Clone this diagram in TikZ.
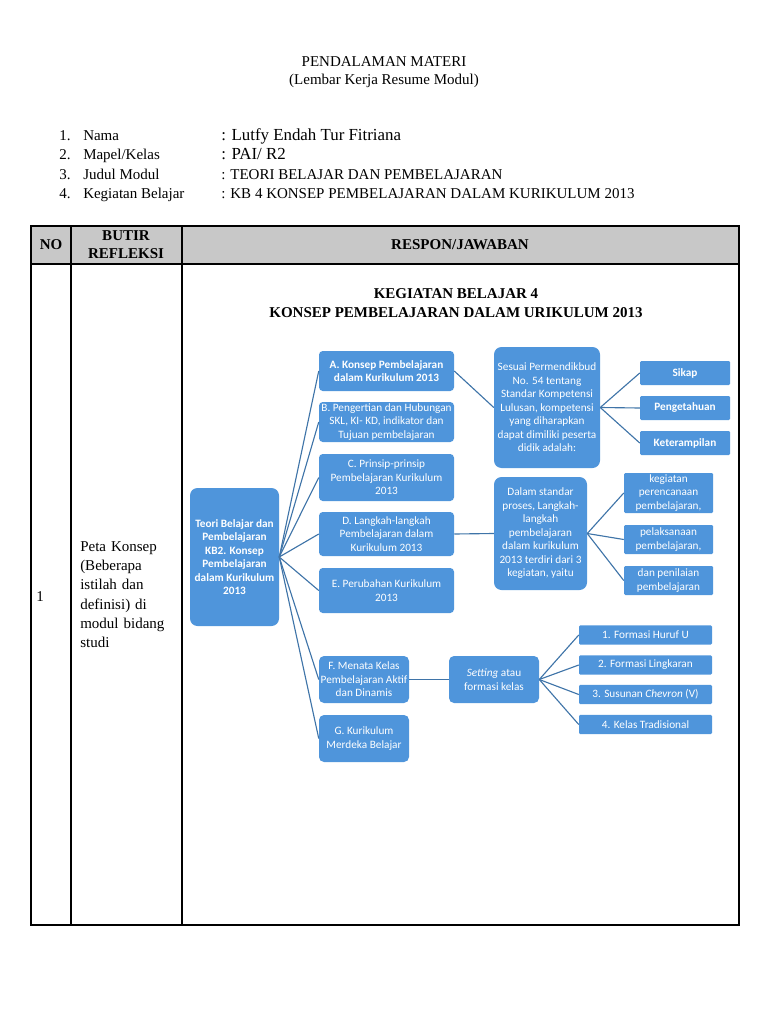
\documentclass[tikz,border=0pt]{standalone}
\usepackage{fontspec}
\setmainfont{Liberation Serif}
\newfontfamily\boxfont{Carlito}
\usepackage{xcolor}
\usetikzlibrary{positioning}
\definecolor{boxblue}{HTML}{4F95DB}
\definecolor{linkblue}{HTML}{3F74A8}
\definecolor{headgray}{HTML}{C8C8C8}

\begin{document}
\begin{tikzpicture}[
  x=0.8pt, y=-0.8pt,
  txt/.style={anchor=base, inner sep=0pt, font=\fontsize{12}{14}\selectfont},
  txtl/.style={txt, anchor=base west},
  hd/.style={txt, font=\fontsize{12}{14}\selectfont\bfseries},
  map/.style={rectangle, rounded corners=3pt, fill=boxblue, text=white, align=center,
              inner sep=0.5pt, font=\boxfont\fontsize{9}{10.8}\selectfont},
  mapb/.style={map, font=\boxfont\bfseries\fontsize{9}{10.8}\selectfont},
  bigbox/.style={map, rounded corners=6pt},
  leaf/.style={map, rounded corners=1pt},
  link/.style={draw=linkblue, line width=0.9pt}
]
\useasboundingbox (0,0) rectangle (768,1024);

\node[txt] (title) at (384,67) {PENDALAMAN MATERI};
\node[txt] (subtitle) at (384,85) {(Lembar Kerja Resume Modul)};

\node[txtl] (n1) at (59,141) {1.};
\node[txtl] (n2) at (59,160) {2.};
\node[txtl] (n3) at (59,180) {3.};
\node[txtl] (n4) at (59,199) {4.};
\node[txtl] (i1) at (83,141) {Nama};
\node[txtl] (i2) at (83,160) {Mapel/Kelas};
\node[txtl] (i3) at (83,180) {Judul Modul};
\node[txtl] (i4) at (83,199) {Kegiatan Belajar};
\node[txtl, font=\fontsize{13.5}{15}\selectfont] (v1) at (221,141) {: Lutfy Endah Tur Fitriana};
\node[txtl, font=\fontsize{13.5}{15}\selectfont] (v2) at (221,160) {: PAI/ R2};
\node[txtl] (v3) at (221,180) {: TEORI BELAJAR DAN PEMBELAJARAN};
\node[txtl] (v4) at (221,199) {: KB 4 KONSEP PEMBELAJARAN DALAM KURIKULUM 2013};

\fill[headgray] (31,226) rectangle (739,264);
\draw[line width=1pt] (31,226) rectangle (739,925);
\draw[line width=1pt] (31,264) -- (739,264);
\draw[line width=1pt] (71,226) -- (71,925);
\draw[line width=1pt] (182,226) -- (182,925);

\node[hd] (hno) at (51,249) {NO};
\node[hd] (hbutir) at (126,240) {BUTIR};
\node[hd] (hrefl) at (126,259) {REFLEKSI};
\node[hd] (hresp) at (460,249) {RESPON/JAWABAN};

\node[txt] (rowno) at (40,601) {1};
\node[anchor=north west, inner sep=0pt, text width=76pt,
      font=\fontsize{12}{15.5}\selectfont] (butir) at (80,541)
  {\makebox[76pt][s]{Peta Konsep}\\(Beberapa\\\makebox[76pt][s]{istilah dan}\\
   \makebox[76pt][s]{definisi) di}\\\makebox[76pt][s]{modul bidang}\\studi};

\node[hd] (kb1) at (456,298) {KEGIATAN BELAJAR 4};
\node[hd] (kb2) at (456,317) {KONSEP PEMBELAJARAN DALAM URIKULUM 2013};

\node[bigbox, font=\boxfont\bfseries\fontsize{9}{10.8}\selectfont,
      minimum width=71.2pt, minimum height=110.4pt] (root) at (234.5,557)
  {Teori Belajar dan\\Pembelajaran\\KB2. Konsep\\Pembelajaran\\dalam Kurikulum\\2013};

\node[mapb, minimum width=108pt, minimum height=32pt] (ka) at (386.5,371)
  {A. Konsep Pembelajaran\\dalam Kurikulum 2013};
\node[map, minimum width=108pt, minimum height=32pt] (kb) at (386.5,422)
  {B. Pengertian dan Hubungan\\SKL, KI- KD, indikator dan\\Tujuan pembelajaran};
\node[map, minimum width=108pt, minimum height=37.6pt] (kc) at (386.5,477.5)
  {C. Prinsip-prinsip\\Pembelajaran Kurikulum\\2013};
\node[map, minimum width=108pt, minimum height=35.2pt] (kd) at (386.5,534)
  {D. Langkah-langkah\\Pembelajaran dalam\\Kurikulum 2013};
\node[map, minimum width=108pt, minimum height=36pt] (ke) at (386.5,590.5)
  {E. Perubahan Kurikulum\\2013};
\node[bigbox, rounded corners=4pt, minimum width=72pt, minimum height=37.6pt] (kf) at (364,679.5)
  {F. Menata Kelas\\Pembelajaran Aktif\\dan Dinamis};
\node[bigbox, rounded corners=4pt, minimum width=72pt, minimum height=37.6pt] (kg) at (364,738.5)
  {G. Kurikulum\\Merdeka Belajar};

\node[bigbox, minimum width=84.8pt, minimum height=96.8pt] (skl) at (547,407.5)
  {Sesuai Permendikbud\\No. 54 tentang\\Standar Kompetensi\\Lulusan, kompetensi\\yang diharapkan\\dapat dimiliki peserta\\didik adalah:};
\node[leaf, font=\boxfont\bfseries\fontsize{9}{10.8}\selectfont, minimum width=72pt, minimum height=19.2pt] (sikap) at (685,373) {Sikap};
\node[leaf, font=\boxfont\bfseries\fontsize{9}{10.8}\selectfont, minimum width=72pt, minimum height=19.2pt] (tahu) at (685,408) {Pengetahuan};
\node[leaf, font=\boxfont\bfseries\fontsize{9}{10.8}\selectfont, minimum width=72pt, minimum height=19.2pt] (terampil) at (685,443) {Keterampilan};

\node[bigbox, minimum width=74.4pt, minimum height=90.4pt] (proses) at (540.5,533.5)
  {Dalam standar\\proses, Langkah-\\langkah\\pembelajaran\\dalam kurikulum\\2013 terdiri dari 3\\kegiatan, yaitu};
\node[leaf, minimum width=71.2pt, minimum height=32pt] (rencana) at (668.5,493)
  {kegiatan\\perencanaan\\pembelajaran,};
\node[leaf, minimum width=71.2pt, minimum height=23.2pt] (laksana) at (668.5,539.5)
  {pelaksanaan\\pembelajaran,};
\node[leaf, minimum width=71.2pt, minimum height=23.2pt] (nilai) at (668.5,580.5)
  {dan penilaian\\pembelajaran};

\node[bigbox, rounded corners=4pt, minimum width=72pt, minimum height=37.6pt] (setting) at (494,679.5)
  {\textit{Setting} atau\\formasi kelas};
\node[leaf, minimum width=106.4pt, minimum height=15.5pt] (fu) at (645.5,635) {1. Formasi Huruf U};
\node[leaf, minimum width=106.4pt, minimum height=15.5pt] (fl) at (645.5,665) {2. Formasi Lingkaran};
\node[leaf, minimum width=106.4pt, minimum height=15.5pt] (fv) at (645.5,694.5) {3. Susunan \textit{Chevron} (V)};
\node[leaf, minimum width=106.4pt, minimum height=15.5pt] (ft) at (645.5,724.5) {4. Kelas Tradisional};

\foreach \k in {ka,kb,kc,kd,ke,kf,kg}
  \draw[link] (root.east) -- (\k.west);
\draw[link] (ka.east) -- (skl.west);
\foreach \k in {sikap,tahu,terampil}
  \draw[link] (skl.east) -- (\k.west);
\draw[link] (kd.east) -- (proses.west);
\foreach \k in {rencana,laksana,nilai}
  \draw[link] (proses.east) -- (\k.west);
\draw[link] (kf.east) -- (setting.west);
\foreach \k in {fu,fl,fv,ft}
  \draw[link] (setting.east) -- (\k.west);
\end{tikzpicture}
\end{document}
